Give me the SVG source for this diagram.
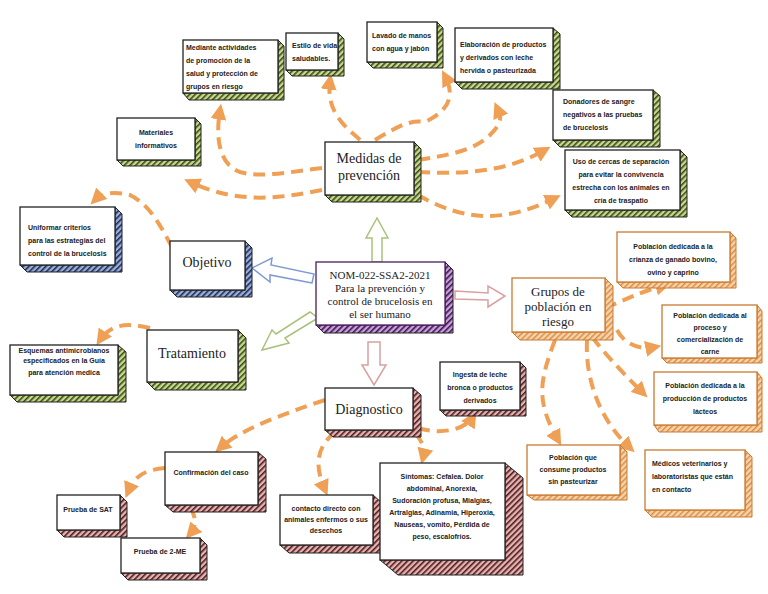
<svg xmlns="http://www.w3.org/2000/svg" width="768" height="594" viewBox="0 0 768 594">
<defs>
<pattern id="hg" width="4" height="4" patternUnits="userSpaceOnUse" patternTransform="rotate(45)"><rect width="4" height="4" fill="#c7d98a"/><rect width="1.6" height="4" fill="#3a4a1a"/></pattern>
<pattern id="hb" width="4" height="4" patternUnits="userSpaceOnUse" patternTransform="rotate(45)"><rect width="4" height="4" fill="#9bb0d8"/><rect width="1.6" height="4" fill="#1d2a55"/></pattern>
<pattern id="hp" width="4" height="4" patternUnits="userSpaceOnUse" patternTransform="rotate(45)"><rect width="4" height="4" fill="#c9a0d8"/><rect width="1.6" height="4" fill="#3b1450"/></pattern>
<pattern id="ho" width="4" height="4" patternUnits="userSpaceOnUse" patternTransform="rotate(45)"><rect width="4" height="4" fill="#f6d3ae"/><rect width="1.4" height="4" fill="#d98a3a"/></pattern>
<pattern id="hr" width="4" height="4" patternUnits="userSpaceOnUse" patternTransform="rotate(45)"><rect width="4" height="4" fill="#e8b2b2"/><rect width="1.6" height="4" fill="#4a1c1c"/></pattern>
<marker id="ar" viewBox="0 0 10 10" refX="6" refY="5" markerWidth="4" markerHeight="4" orient="auto"><path d="M0,0 L10,5 L0,10 z" fill="#f0a055"/></marker>
</defs>
<style>
.f{fill:#fff;stroke:#222;stroke-width:1.3}
.o .f{stroke:#c97a30}
.t{font-family:"Liberation Sans",sans-serif;font-size:7px;font-weight:bold;fill:#222}
.T{font-family:"Liberation Serif",serif;font-size:14px;fill:#222}
.s{font-size:11px}
.m{font-size:13px}
.c{fill:none;stroke:#f0a055;stroke-width:4;stroke-dasharray:12 7;marker-end:url(#ar)}
.ba{stroke-width:1.5;fill:#fff}
</style>
<rect width="768" height="594" fill="#fff"/>

<g id="connectors">
<path class="c" d="M322,168 C290,172 260,178 240,172 C220,165 215,140 220,110"/>
<path class="c" d="M322,190 C280,198 240,205 190,182"/>
<path class="c" d="M360,140 C350,130 325,115 330,80"/>
<path class="c" d="M375,140 C400,125 410,120 425,122 C450,110 455,95 445,76"/>
<path class="c" d="M418,160 C450,155 475,150 490,135 C505,120 500,115 497,108"/>
<path class="c" d="M418,172 C470,175 510,170 545,150"/>
<path class="c" d="M418,195 C470,225 510,220 555,198"/>
<path class="c" d="M172,247 C160,225 150,205 130,195 C110,190 100,195 95,200"/>
<path class="c" d="M150,328 C125,322 110,325 100,340"/>
<path class="c" d="M325,400 C280,415 240,430 220,448"/>
<path class="c" d="M335,432 C320,445 312,460 325,490"/>
<path class="c" d="M415,433 C425,445 425,450 423,458"/>
<path class="c" d="M418,428 C440,435 465,430 473,417"/>
<path class="c" d="M165,468 C145,470 135,475 128,492"/>
<path class="c" d="M190,507 C195,515 198,525 190,534"/>
<path class="c" d="M605,308 C625,300 640,292 665,285"/>
<path class="c" d="M617,330 C625,345 640,350 655,347"/>
<path class="c" d="M592,337 C610,360 630,380 643,393"/>
<path class="c" d="M587,340 C585,380 600,420 630,448"/>
<path class="c" d="M555,340 C540,380 535,400 558,440"/>
</g>
<g id="block-arrows">
<path class="ba" stroke="#a9c27a" d="M372,262 L372,238 L366,238 L377,218 L388,238 L382,238 L382,262 Z"/>
<path class="ba" stroke="#7f9bd0" d="M312,283 L270,275 L270,282 L252,268 L272,258 L271,265 L314,274 Z"/>
<path class="ba" stroke="#a9c27a" d="M318,318 L285,338 L289,343 L262,350 L272,330 L276,334 L310,312 Z"/>
<path class="ba" stroke="#d9a0a0" d="M455,291 L488,293 L488,286 L505,296 L488,307 L488,300 L455,299 Z"/>
<path class="ba" stroke="#d9a0a0" d="M368,342 L368,365 L362,365 L374,385 L386,365 L380,365 L380,342 Z"/>
</g>

<g id="n-mediante"><path d="M278,40 L284,46 L284,100 L189,100 L183,93 L278,93 Z" fill="url(#hg)" stroke="#222"/><rect class="f" x="183" y="40" width="95" height="53"/><text class="t" x="186" y="50">Mediante actividades</text><text class="t" x="186" y="63">de promoción de la</text><text class="t" x="186" y="76">salud y protección de</text><text class="t" x="186" y="89">grupos en riesgo</text></g>
<g id="n-estilo"><path d="M338,33 L344,39 L344,76 L292,76 L286,70 L338,70 Z" fill="url(#hg)" stroke="#222"/><rect class="f" x="286" y="33" width="52" height="37"/><text class="t" x="292" y="48">Estilo de vida</text><text class="t" x="292" y="61">saludables.</text></g>
<g id="n-lavado"><path d="M437,22 L443,28 L443,68 L373,68 L367,62 L437,62 Z" fill="url(#hg)" stroke="#222"/><rect class="f" x="367" y="22" width="70" height="40"/><text class="t" x="372" y="38">Lavado de manos</text><text class="t" x="372" y="51">con agua y jabón</text></g>
<g id="n-elab"><path d="M553,28 L560,34 L560,89 L462,89 L455,82 L553,82 Z" fill="url(#hg)" stroke="#222"/><rect class="f" x="455" y="28" width="98" height="54"/><text class="t" x="460" y="47">Elaboración de productos</text><text class="t" x="460" y="60">y derivados con leche</text><text class="t" x="460" y="73">hervida o pasteurizada</text></g>
<g id="n-donad"><path d="M653,90 L660,96 L660,147 L560,147 L553,140 L653,140 Z" fill="url(#hg)" stroke="#222"/><rect class="f" x="553" y="90" width="100" height="50"/><text class="t" x="563" y="104">Donadores de sangre</text><text class="t" x="563" y="117">negativos a las pruebas</text><text class="t" x="563" y="130">de brucelosis</text></g>
<g id="n-uso"><path d="M680,150 L687,157 L687,217 L572,217 L565,210 L680,210 Z" fill="url(#hg)" stroke="#222"/><rect class="f" x="565" y="150" width="115" height="60"/><text class="t" x="621" y="164" text-anchor="middle">Uso de cercas de separación</text><text class="t" x="621" y="177" text-anchor="middle">para evitar la convivencia</text><text class="t" x="621" y="190" text-anchor="middle">estrecha con los animales en</text><text class="t" x="621" y="203" text-anchor="middle">cría de traspatio</text></g>
<g id="n-mat"><path d="M195,118 L201,124 L201,166 L123,166 L117,160 L195,160 Z" fill="url(#hg)" stroke="#222"/><rect class="f" x="117" y="118" width="78" height="42"/><text class="t" x="156" y="135" text-anchor="middle">Materiales</text><text class="t" x="156" y="148" text-anchor="middle">informativos</text></g>
<g id="n-medidas"><path d="M414,142 L421,149 L421,202 L332,202 L325,195 L414,195 Z" fill="url(#hg)" stroke="#222"/><rect class="f" x="325" y="142" width="89" height="53"/><text class="T" x="369" y="163" text-anchor="middle">Medidas de</text><text class="T" x="369" y="180" text-anchor="middle">prevención</text></g>
<g id="n-unif"><path d="M115,207 L122,214 L122,272 L27,272 L20,265 L115,265 Z" fill="url(#hb)" stroke="#222"/><rect class="f" x="20" y="207" width="95" height="58"/><text class="t" x="28" y="230">Uniformar criterios</text><text class="t" x="28" y="243">para las estrategias del</text><text class="t" x="28" y="256">control de la brucelosis</text></g>
<g id="n-obj"><path d="M245,241 L252,248 L252,297 L177,297 L170,290 L245,290 Z" fill="url(#hb)" stroke="#222"/><rect class="f" x="170" y="241" width="75" height="49"/><text class="T" x="207" y="267" text-anchor="middle">Objetivo</text></g>
<g id="n-nom"><path d="M445,262 L453,270 L453,333 L324,333 L316,325 L445,325 Z" fill="url(#hp)" stroke="#222"/><rect class="f" x="316" y="262" width="129" height="63" style="stroke:#4a1c60"/><text class="T s" x="380" y="279" text-anchor="middle">NOM-022-SSA2-2021</text><text class="T s" x="380" y="292" text-anchor="middle">Para la prevención y</text><text class="T s" x="380" y="305" text-anchor="middle">control de brucelosis en</text><text class="T s" x="380" y="318" text-anchor="middle">el ser humano</text></g>
<g id="n-grupos" class="o"><path d="M605,278 L613,286 L613,340 L520,340 L512,332 L605,332 Z" fill="url(#ho)" stroke="#c97a30"/><rect class="f" x="512" y="278" width="93" height="54"/><text class="T m" x="558" y="296" text-anchor="middle">Grupos de</text><text class="T m" x="558" y="311" text-anchor="middle">población en</text><text class="T m" x="558" y="326" text-anchor="middle">riesgo</text></g>
<g id="n-crianza" class="o"><path d="M730,232 L736,238 L736,288 L623,288 L617,282 L730,282 Z" fill="url(#ho)" stroke="#c97a30"/><rect class="f" x="617" y="232" width="113" height="50"/><text class="t" x="673" y="249" text-anchor="middle">Población dedicada a la</text><text class="t" x="673" y="262" text-anchor="middle">crianza de ganado bovino,</text><text class="t" x="673" y="275" text-anchor="middle">ovino y caprino</text></g>
<g id="n-proceso" class="o"><path d="M757,305 L762,311 L762,363 L667,363 L662,358 L757,358 Z" fill="url(#ho)" stroke="#c97a30"/><rect class="f" x="662" y="305" width="95" height="53"/><text class="t" x="710" y="318" text-anchor="middle">Población dedicada al</text><text class="t" x="710" y="330" text-anchor="middle">proceso y</text><text class="t" x="710" y="342" text-anchor="middle">comercialización de</text><text class="t" x="710" y="354" text-anchor="middle">carne</text></g>
<g id="n-lacteos" class="o"><path d="M757,372 L762,378 L762,432 L659,432 L654,425 L757,425 Z" fill="url(#ho)" stroke="#c97a30"/><rect class="f" x="654" y="372" width="103" height="53"/><text class="t" x="705" y="388" text-anchor="middle">Población dedicada a la</text><text class="t" x="705" y="401" text-anchor="middle">producción de productos</text><text class="t" x="705" y="414" text-anchor="middle">lácteos</text></g>
<g id="n-medicos" class="o"><path d="M745,450 L752,457 L752,517 L652,517 L645,510 L745,510 Z" fill="url(#ho)" stroke="#c97a30"/><rect class="f" x="645" y="450" width="100" height="60"/><text class="t" x="652" y="466">Médicos veterinarios y</text><text class="t" x="652" y="479">laboratoristas que están</text><text class="t" x="652" y="492">en contacto</text></g>
<g id="n-consume" class="o"><path d="M620,445 L627,452 L627,500 L534,500 L527,495 L620,495 Z" fill="url(#ho)" stroke="#c97a30"/><rect class="f" x="527" y="445" width="93" height="50"/><text class="t" x="573" y="460" text-anchor="middle">Población que</text><text class="t" x="573" y="472" text-anchor="middle">consume productos</text><text class="t" x="573" y="484" text-anchor="middle">sin pasteurizar</text></g>
<g id="n-esq"><path d="M118,345 L126,352 L126,402 L17,402 L10,395 L118,395 Z" fill="url(#hg)" stroke="#222"/><rect class="f" x="10" y="345" width="108" height="50"/><text class="t" x="64" y="353" text-anchor="middle">Esquemas antimicrobianos</text><text class="t" x="64" y="363" text-anchor="middle">especificados en la Guía</text><text class="t" x="64" y="375" text-anchor="middle">para atención medica</text></g>
<g id="n-trat"><path d="M238,330 L246,338 L246,390 L155,390 L147,382 L238,382 Z" fill="url(#hg)" stroke="#222"/><rect class="f" x="147" y="330" width="91" height="52"/><text class="T" x="192" y="358" text-anchor="middle">Tratamiento</text></g>
<g id="n-diag"><path d="M413,388 L421,395 L421,437 L333,437 L325,430 L413,430 Z" fill="url(#hr)" stroke="#222"/><rect class="f" x="325" y="388" width="88" height="42"/><text class="T" x="369" y="414" text-anchor="middle">Diagnostico</text></g>
<g id="n-ingesta"><path d="M520,362 L526,368 L526,416 L446,416 L440,410 L520,410 Z" fill="url(#hr)" stroke="#222"/><rect class="f" x="440" y="362" width="80" height="48"/><text class="t" x="480" y="377" text-anchor="middle">Ingesta de leche</text><text class="t" x="480" y="390" text-anchor="middle">bronca o productos</text><text class="t" x="480" y="403" text-anchor="middle">derivados</text></g>
<g id="n-conf"><path d="M258,452 L266,459 L266,512 L173,512 L165,505 L258,505 Z" fill="url(#hr)" stroke="#222"/><rect class="f" x="165" y="452" width="93" height="53"/><text class="t" x="211" y="475" text-anchor="middle">Confirmación del caso</text></g>
<g id="n-sat"><path d="M120,495 L127,502 L127,537 L64,537 L57,530 L120,530 Z" fill="url(#hr)" stroke="#222"/><rect class="f" x="57" y="495" width="63" height="35"/><text class="t" x="88" y="512" text-anchor="middle">Prueba de SAT</text></g>
<g id="n-2me"><path d="M200,538 L207,545 L207,580 L128,580 L121,573 L200,573 Z" fill="url(#hr)" stroke="#222"/><rect class="f" x="121" y="538" width="79" height="35"/><text class="t" x="160" y="554" text-anchor="middle">Prueba de 2-ME</text></g>
<g id="n-contacto"><path d="M373,495 L382,503 L382,553 L289,553 L280,545 L373,545 Z" fill="url(#hr)" stroke="#222"/><rect class="f" x="280" y="495" width="93" height="50"/><text class="t" x="326" y="511" text-anchor="middle">contacto directo con</text><text class="t" x="326" y="522" text-anchor="middle">animales enfermos o sus</text><text class="t" x="326" y="533" text-anchor="middle">desechos</text></g>
<g id="n-sint"><path d="M505,463 L523,478 L523,575 L398,575 L380,560 L505,560 Z" fill="url(#hr)" stroke="#222"/><rect class="f" x="380" y="463" width="125" height="97"/><text class="t" x="442" y="479" text-anchor="middle">Síntomas:  Cefalea. Dolor</text><text class="t" x="442" y="491" text-anchor="middle">abdominal, Anorexia,</text><text class="t" x="442" y="503" text-anchor="middle">Sudoración profusa, Mialgias,</text><text class="t" x="442" y="515" text-anchor="middle">Artralgias, Adinamia, Hiperoxia,</text><text class="t" x="442" y="527" text-anchor="middle">Nauseas, vomito, Pérdida de</text><text class="t" x="442" y="539" text-anchor="middle">peso, escalofríos.</text></g>
</svg>
